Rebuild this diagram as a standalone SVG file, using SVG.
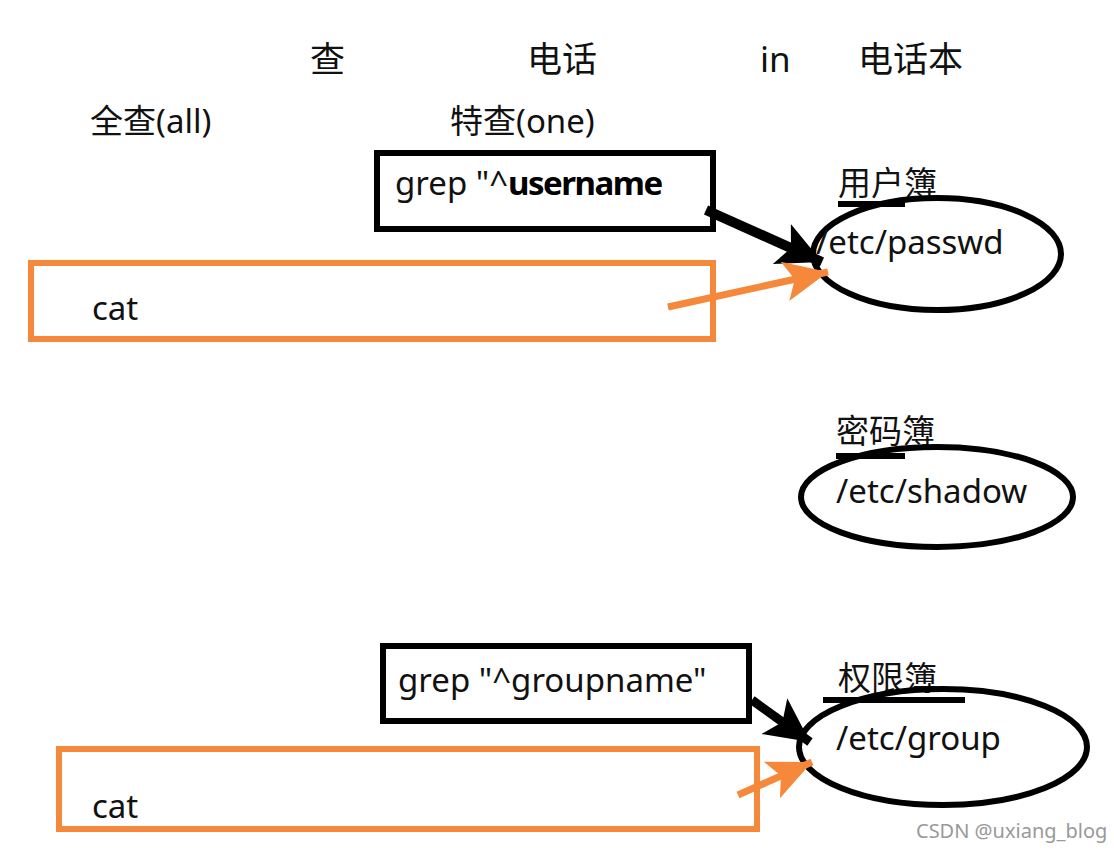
<svg xmlns="http://www.w3.org/2000/svg" width="1114" height="851" viewBox="0 0 1114 851">
<style>
text{font-family:"Noto Sans","Noto Sans CJK SC",sans-serif;fill:#111}
.t{font-size:35px}.m{font-size:33px}
.bk{fill:none;stroke:#000;stroke-width:6}
.or{fill:none;stroke:#F5883A;stroke-width:6}
.ul{stroke:#000;stroke-width:6}
</style>
<defs>
<marker id="ab" markerUnits="userSpaceOnUse" markerWidth="50" markerHeight="50" refX="44" refY="24" orient="auto"><path d="M0,2 L44,24 L0,46 L10,24 Z" fill="#000"/></marker>
<marker id="ao" markerUnits="userSpaceOnUse" markerWidth="50" markerHeight="50" refX="44" refY="22" orient="auto"><path d="M0,2 L44,22 L0,42 L10,22 Z" fill="#F5883A"/></marker>
</defs>
<rect width="1114" height="851" fill="#fff"/>
<g id="header">
<text class="t" x="310" y="72">查</text>
<text class="t" x="527" y="72">电话</text>
<text class="t" x="760" y="72">in</text>
<text class="t" x="858" y="72">电话本</text>
<text class="m" x="90" y="133">全查(all)</text>
<text class="m" x="450" y="133">特查(one)</text>
</g>
<g id="grep-user"><rect class="bk" x="377" y="153" width="336" height="76"/>
<text class="m" x="395" y="195">grep "^<tspan font-weight="bold" fill="#000" style="letter-spacing:-1.5px">username</tspan></text></g>
<g id="cat-user"><rect class="or" x="31" y="263" width="682" height="76"/><text class="m" x="92" y="320">cat</text></g>
<g id="passwd"><text class="m" x="838" y="195">用户簿</text><line class="ul" x1="838" y1="204" x2="905" y2="204"/>
<ellipse class="bk" cx="937" cy="254" rx="124" ry="56"/><text class="m" x="816" y="254">/etc/passwd</text></g>
<g id="shadow"><text class="m" x="836" y="443">密码簿</text><line class="ul" x1="836" y1="456" x2="905" y2="456"/>
<ellipse class="bk" cx="937" cy="497" rx="136" ry="50"/><text class="m" x="836" y="503">/etc/shadow</text></g>
<g id="grep-group"><rect class="bk" x="383" y="646" width="366" height="75"/><text class="m" x="398" y="692">grep "^groupname"</text></g>
<g id="cat-group"><rect class="or" x="59" y="749" width="698" height="80"/><text class="m" x="92" y="818">cat</text></g>
<g id="group"><text class="m" x="838" y="690">权限簿</text><line class="ul" x1="823" y1="700" x2="965" y2="700"/>
<ellipse class="bk" cx="943" cy="747" rx="144" ry="58"/><text class="m" x="836" y="750">/etc/group</text></g>
<g id="connectors">
<line x1="706" y1="210" x2="822" y2="262" stroke="#000" stroke-width="10" marker-end="url(#ab)"/>
<line x1="668" y1="307" x2="828" y2="272" stroke="#F5883A" stroke-width="7" marker-end="url(#ao)"/>
<line x1="752" y1="700" x2="810" y2="742" stroke="#000" stroke-width="9" marker-end="url(#ab)"/>
<line x1="738" y1="795" x2="812" y2="762" stroke="#F5883A" stroke-width="7" marker-end="url(#ao)"/>
</g>
<text x="916" y="838" style="font-size:20px;fill:#999">CSDN @uxiang_blog</text>
</svg>
